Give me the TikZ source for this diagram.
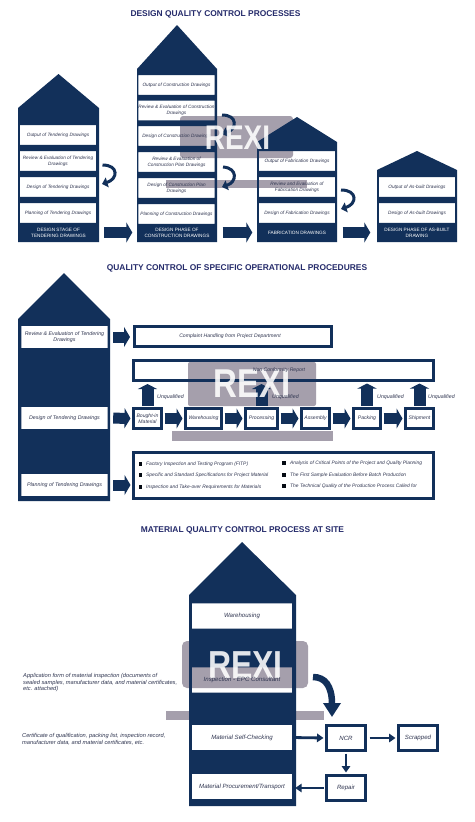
\documentclass[tikz,border=0pt]{standalone}
\usepackage{fontspec}
\usepackage{graphicx}
\setmainfont{Liberation Sans}
\usetikzlibrary{arrows.meta}
\definecolor{navy}{HTML}{12305A}
\definecolor{titleblue}{HTML}{252B6B}
\definecolor{bodytxt}{HTML}{2F3550}
\definecolor{wmgray}{HTML}{A59FAC}
\tikzset{
  housefill/.style={fill=navy,draw=none,even odd rule},
  titletxt/.style={font=\bfseries\fontsize{8.4}{10}\selectfont,text=titleblue,inner sep=0pt},
  whitebox/.style={draw=none,inner sep=0pt,align=center,text=bodytxt,
    font=\itshape\fontsize{4.7}{5.8}\selectfont},
  midbox/.style={whitebox,font=\itshape\fontsize{5.3}{6.4}\selectfont},
  sitebox/.style={whitebox,font=\itshape\fontsize{6.1}{7}\selectfont},
  bandtxt/.style={inner sep=0pt,align=center,text=white,font=\fontsize{4.7}{5.8}\selectfont},
  outbox/.style={draw=navy,line width=2.6pt,inner sep=0pt,align=center,text=bodytxt,
    font=\itshape\fontsize{5.1}{6.2}\selectfont},
  siteout/.style={outbox,font=\itshape\fontsize{6.1}{7}\selectfont},
  overtxt/.style={inner sep=0pt,align=center,text=bodytxt,font=\itshape\fontsize{5.1}{6.2}\selectfont},
  plain/.style={inner sep=0pt,align=left,anchor=west,text=bodytxt,
    font=\itshape\fontsize{4.9}{5.8}\selectfont},
  unq/.style={plain,font=\itshape\fontsize{5.3}{6.2}\selectfont},
  note/.style={plain,anchor=north west,font=\itshape\fontsize{5.7}{6.8}\selectfont},
  bulletbox/.style={fill=black!80!navy,draw=none,inner sep=0pt,minimum size=3.6pt},
  blockarrow/.style={draw=navy,line width=11pt,-{Triangle[length=6pt,width=20pt,fill=navy]}},
  uparrow/.style={draw=navy,line width=12pt,-{Triangle[length=5pt,width=19pt,fill=navy]}},
  curvearrow/.style={draw=navy,line width=3pt,-{Triangle[length=5.5pt,width=10pt,fill=navy]}},
  bigcurve/.style={draw=navy,line width=6.5pt,-{Triangle[length=14pt,width=17pt,fill=navy]}},
  thinarrow/.style={draw=navy,line width=2.8pt,-{Triangle[length=6.5pt,width=8.5pt,fill=navy]}},
  wm/.style={fill=wmgray,draw=none},
  wmtxt/.style={text=white,text opacity=.88,inner sep=0pt,font=\bfseries}
}
\newcommand{\hole}[1]{(#1.north west) rectangle (#1.south east)}
\newcommand{\wmword}{\scalebox{1}[1.22]{REXI}}
\begin{document}
\begin{tikzpicture}[x=1pt,y=-1pt]
\useasboundingbox (0,0) rectangle (474,822);
\fill[white] (0,0) rectangle (474,822);

% ---------- watermark panels, lowest layer: they show only on the white
\fill[wm,rounded corners=3pt] (180,116) rectangle (293,158);
\fill[wm] (166,180) rectangle (307,188);
\fill[wm,rounded corners=2pt] (188,362) rectangle (316,406);
\fill[wm] (172,431) rectangle (333,441);
\fill[wm,rounded corners=5pt] (182,641) rectangle (308,688);
\fill[wm] (166,711) rectangle (324,720);

% ---------- titles
\node[titletxt] (t1) at (215.5,14) {DESIGN QUALITY CONTROL PROCESSES};
\node[titletxt] (t2) at (237,268) {QUALITY CONTROL OF SPECIFIC OPERATIONAL PROCEDURES};
\node[titletxt] (t3) at (242.5,530) {MATERIAL QUALITY CONTROL PROCESS AT SITE};

% ---------- section 1 boxes
\begin{scope}[every node/.append style={minimum width=76pt,minimum height=19.5pt}]
\node[whitebox] (a1) at (58,135) {Output of Tendering Drawings};
\node[whitebox] (a2) at (58,161) {Review \& Evaluation of Tendering\\Drawings};
\node[whitebox] (a3) at (58,187) {Design of Tendering Drawings};
\node[whitebox] (a4) at (58,213) {Planning of Tendering Drawings};
\node[whitebox] (b1) at (176.5,85) {Output of Construction Drawings};
\node[whitebox] (b2) at (176.5,110.5) {Review \& Evaluation of Construction\\Drawings};
\node[whitebox] (b3) at (176.5,136) {Design of Construction Drawings};
\node[whitebox] (b4) at (176.5,162) {Review \& Evaluation of\\Construction Plan Drawings};
\node[whitebox] (b5) at (176.5,188) {Design of Construction Plan\\Drawings};
\node[whitebox] (b6) at (176.5,214) {Planning of Construction Drawings};
\node[whitebox] (c1) at (297,161) {Output of Fabrication Drawings};
\node[whitebox] (c2) at (297,187) {Review and Evaluation of\\Fabrication Drawings};
\node[whitebox] (c3) at (297,213) {Design of Fabrication Drawings};
\node[whitebox] (d1) at (417,187) {Output of As-built Drawings};
\node[whitebox] (d2) at (417,213) {Design of As-built Drawings};
\end{scope}
% houses with the boxes as windows
\fill[housefill] (18,108)--(58.5,74)--(99,108)--(99,242)--(18,242)--cycle \hole{a1} \hole{a2} \hole{a3} \hole{a4};
\fill[housefill] (137,69)--(177,25)--(217,69)--(217,242)--(137,242)--cycle \hole{b1} \hole{b2} \hole{b3} \hole{b4} \hole{b5} \hole{b6};
\fill[housefill] (257,142)--(297,117)--(337,142)--(337,242)--(257,242)--cycle \hole{c1} \hole{c2} \hole{c3};
\fill[housefill] (377,170)--(417,151)--(457,170)--(457,242)--(377,242)--cycle \hole{d1} \hole{d2};

\begin{scope}[every node/.append style={minimum width=81pt,minimum height=18pt}]
\node[bandtxt] (ba) at (58.5,232.5) {DESIGN STAGE OF\\TENDERING DRAWINGS};
\node[bandtxt] (bb) at (177,232.5) {DESIGN PHASE OF\\CONSTRUCTION DRAWINGS};
\node[bandtxt] (bc) at (297,232.5) {FABRICATION DRAWINGS};
\node[bandtxt] (bd) at (417,232.5) {DESIGN PHASE OF AS-BUILT\\DRAWING};
\end{scope}
\draw[blockarrow,shorten <=5pt,shorten >=4pt] (ba.east) -- (bb.west);
\draw[blockarrow,shorten <=5pt,shorten >=4pt] (bb.east) -- (bc.west);
\draw[blockarrow,shorten <=5pt,shorten >=6pt] (bc.east) -- (bd.west);

\coordinate (ca1) at (102.5,165);
\coordinate (ca2) at (102,184);
\draw[curvearrow] (ca1) .. controls (119,165) and (118,179) .. (ca2);
\coordinate (cb1) at (222,115);
\coordinate (cb2) at (222,134);
\draw[curvearrow] (cb1) .. controls (238,115) and (237,129) .. (cb2);
\coordinate (cc1) at (223,167);
\coordinate (cc2) at (222,187);
\draw[curvearrow] (cc1) .. controls (238,168) and (237,182) .. (cc2);
\coordinate (cd1) at (341,190);
\coordinate (cd2) at (341,209);
\draw[curvearrow] (cd1) .. controls (358,190) and (357,204) .. (cd2);

% ---------- section 2
\begin{scope}[every node/.append style={minimum width=86pt,minimum height=22pt}]
\node[midbox] (e1) at (64.5,337) {Review \& Evaluation of Tendering\\Drawings};
\node[midbox] (e2) at (64.5,418) {Design of Tendering Drawings};
\node[midbox] (e3) at (64.5,485) {Planning of Tendering Drawings};
\end{scope}
\fill[housefill] (18,319)--(64,273)--(110,319)--(110,501)--(18,501)--cycle \hole{e1} \hole{e2} \hole{e3};

\node[outbox,minimum width=197.4pt,minimum height=20.4pt] (f1) at (233,336.5) {Complaint Handling from Project Department\hspace*{6pt}};
\node[outbox,minimum width=300.4pt,minimum height=20.4pt] (f2) at (283.5,370.5) {};
\node[outbox,minimum width=300.4pt,minimum height=46.4pt] (f3) at (283.5,475.5) {};

\begin{scope}[every node/.append style={minimum height=20.4pt}]
\node[outbox,minimum width=28.4pt] (g1) at (147.5,418.5) {Bought-in\\Material};
\node[outbox,minimum width=36.4pt] (g2) at (203.5,418.5) {Warehousing};
\node[outbox,minimum width=32.4pt] (g3) at (261.5,418.5) {Processing};
\node[outbox,minimum width=28.4pt] (g4) at (315.5,418.5) {Assembly};
\node[outbox,minimum width=27.4pt] (g5) at (367,418.5) {Packing};
\node[outbox,minimum width=28.4pt] (g6) at (419.5,418.5) {Shipment};
\end{scope}

\draw[blockarrow,shorten <=5.5pt,shorten >=3pt] (e1.east) -- (f1.west |- e1.east);
\draw[blockarrow,shorten <=5.5pt,shorten >=1.5pt] (e2.east) -- (g1.west);
\draw[blockarrow,shorten <=5.5pt,shorten >=1.5pt] (e3.east) -- (f3.west |- e3.east);
\draw[blockarrow,shorten <=1.5pt,shorten >=1.5pt] (g1.east) -- (g2.west);
\draw[blockarrow,shorten <=1.5pt,shorten >=1.5pt] (g2.east) -- (g3.west);
\draw[blockarrow,shorten <=1.5pt,shorten >=1.5pt] (g3.east) -- (g4.west);
\draw[blockarrow,shorten <=1.5pt,shorten >=1.5pt] (g4.east) -- (g5.west);
\draw[blockarrow,shorten <=1.5pt,shorten >=1.5pt] (g5.east) -- (g6.west);

\draw[uparrow,shorten <=1.5pt,shorten >=2pt] (g1.north) -- (g1.north |- f2.south);
\draw[uparrow,shorten <=1.5pt,shorten >=2pt] (g3.north) -- (g3.north |- f2.south);
\draw[uparrow,shorten <=1.5pt,shorten >=1.5pt] (g5.north) -- (g5.north |- f2.south);
\draw[uparrow,shorten <=1.5pt,shorten >=1.5pt] (g6.north) -- (g6.north |- f2.south);

\node[unq] (u1) at (157,397) {Unqualified};
\node[unq] (u3) at (377,397) {Unqualified};
\node[unq] (u4) at (428,397) {Unqualified};

\node[bulletbox] (k1) at (140.5,464) {};
\node[bulletbox] (k2) at (140.5,475) {};
\node[bulletbox] (k3) at (140.5,487) {};
\node[bulletbox] (k4) at (284,463) {};
\node[bulletbox] (k5) at (284,475) {};
\node[bulletbox] (k6) at (284,486) {};
\node[plain] (l1) at (146,464) {Factory Inspection and Testing Program (FITP)};
\node[plain] (l2) at (146,475) {Specific and Standard Specifications for Project Material};
\node[plain] (l3) at (146,487) {Inspection and Take-over Requirements for Materials};
\node[plain] (l4) at (290,463) {Analysis of Critical Points of the Project and Quality Planning};
\node[plain] (l5) at (290,475) {The First Sample Evaluation Before Batch Production};
\node[plain] (l6) at (290,486) {The Technical Quality of the Production Process Called for};

% ---------- section 3
\begin{scope}[every node/.append style={minimum width=100pt,minimum height=25pt}]
\node[sitebox] (m1) at (242,616) {Warehousing};
\node[sitebox] (m2) at (242,680) {};
\node[sitebox] (m3) at (242,737.5) {Material Self-Checking};
\node[sitebox] (m4) at (242,786.5) {Material Procurement/Transport};
\end{scope}
\fill[housefill] (189,595)--(242,542)--(296,595)--(296,806)--(189,806)--cycle \hole{m1} \hole{m2} \hole{m3} \hole{m4};

\begin{scope}[every node/.append style={minimum width=39.4pt,minimum height=25.4pt}]
\node[siteout] (n1) at (346,738) {NCR};
\node[siteout] (n2) at (418,738) {Scrapped};
\node[siteout] (n3) at (346,788) {Repair};
\end{scope}
\draw[thinarrow,shorten <=3pt,shorten >=1.5pt] (m3.east) -- (n1.west);
\draw[thinarrow,shorten <=2.5pt,shorten >=1.5pt] (n1.east) -- (n2.west);
\draw[thinarrow,shorten <=1.5pt,shorten >=1.5pt] (n1.south) -- (n3.north);
\draw[thinarrow,shorten <=1.5pt,shorten >=3pt] (n3.west) -- (m4.east |- n3.west);
\coordinate (bc1) at (313,677);
\coordinate (bc2) at (332,717);
\draw[bigcurve] (bc1) .. controls (325,677) and (332,686) .. (bc2);

\node[note] (p1) at (23,673) {Application form of material inspection (documents of\\sealed samples, manufacturer data, and material certificates,\\etc. attached)};
\node[note] (p2) at (22,733) {Certificate of qualification, packing list, inspection record,\\manufacturer data, and material certificates, etc.};

% ---------- watermark lettering
\node[wmtxt,font=\bfseries\fontsize{28}{30}\selectfont] (w1) at (237.5,137.5) {\wmword};
\node[wmtxt,font=\bfseries\fontsize{33}{35}\selectfont] (w2) at (252,384) {\wmword};
\node[wmtxt,font=\bfseries\fontsize{32}{34}\selectfont] (w3) at (245.5,665) {\wmword};

% ---------- labels that print over the lettering
\node[overtxt] (f2t) at (279,370.5) {Non Conformity Report};
\node[unq] (u2) at (272,397) {Unqualified};
\node[sitebox] (m2t) at (242,680) {Inspection - EPC Consultant};
\end{tikzpicture}
\end{document}
